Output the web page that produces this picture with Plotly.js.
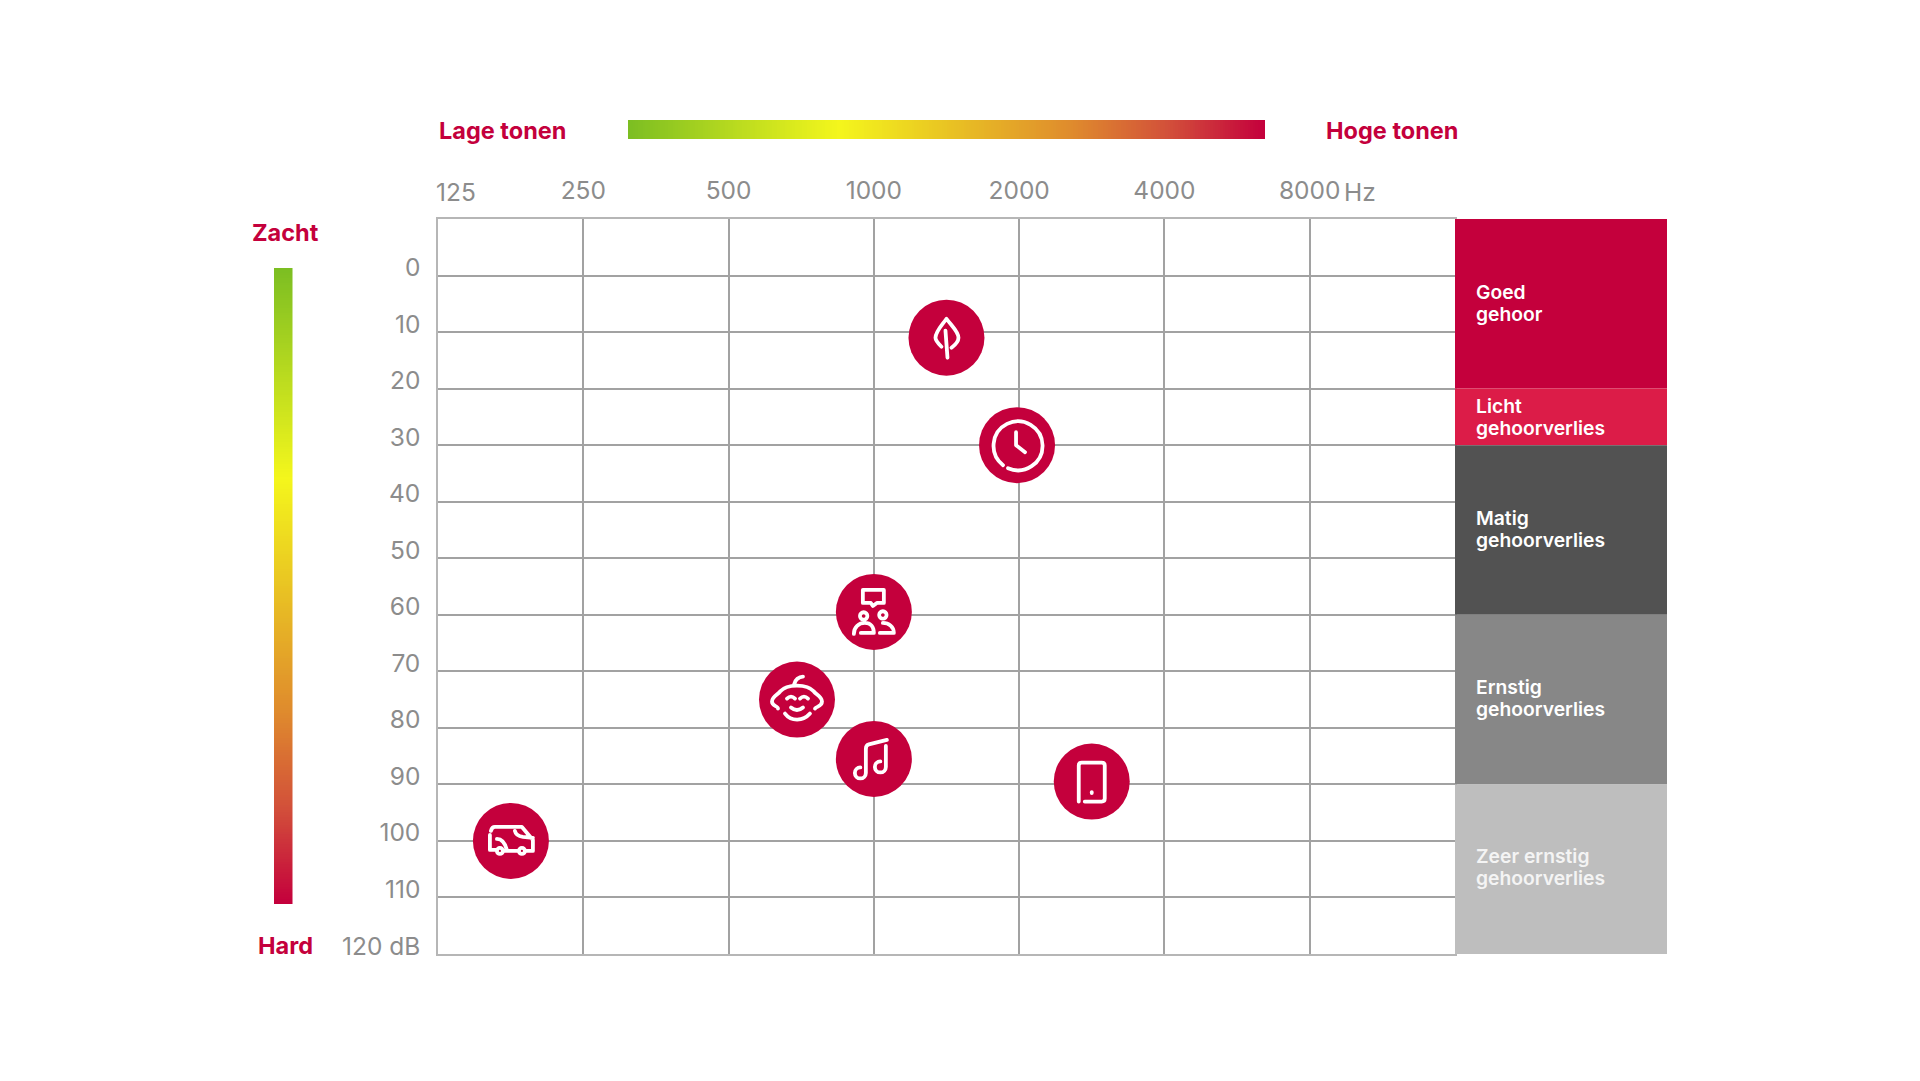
<!DOCTYPE html>
<html><head><meta charset="utf-8">
<script src="https://cdn.plot.ly/plotly-3.0.1.min.js"></script>
<style>html,body{margin:0;padding:0;background:#fff}#c{width:1920px;height:1081px}</style>
</head><body><div id="c"></div>
<script>
const W = 1920, H = 1081;
const CRIMSON = '#C4003C', TICKGREY = '#8C8C8C', FONT = 'Inter, sans-serif';

// ---- data ----
const freqTicks = [250, 500, 1000, 2000, 4000, 8000];
const freqLabels = ['250', '500', '1000', '2000', '4000', '8000'];
const levelTicks = [0, 10, 20, 30, 40, 50, 60, 70, 80, 90, 100, 110, 120];
const levelLabels = ['0', '10', '20', '30', '40', '50', '60', '70', '80', '90', '100', '110', '120 dB'];
const soundFreq = [1414, 1980, 1000, 693, 1000, 2828, 177];
const soundLevel = [11, 30, 59.5, 75, 85.5, 89.5, 100];
const soundNames = ['Bladeren', 'Klok', 'Gesprek', 'Baby', 'Muziek', 'Telefoon', 'Vrachtwagen'];
const bandFrom = [-10, 20, 30, 60, 90];
const bandTo = [20, 30, 60, 90, 120];
const bandColors = ['#C4003C', '#DC1C48', '#525252', '#878787', '#BEBEBE'];
const bandLine1 = ['Goed', 'Licht', 'Matig', 'Ernstig', 'Zeer ernstig'];
const bandLine2 = ['gehoor', 'gehoorverlies', 'gehoorverlies', 'gehoorverlies', 'gehoorverlies'];
const bandLine1Px = [292, 406, 518, 687, 856];
const bandTextColors = ['#fff', '#fff', '#fff', '#fff', '#F4F4F4'];
const gradStops = [[0, '#7CBE22'], [0.33, '#F4F61C'], [0.5, '#E9C423'], [0.7, '#DF8A2D'], [0.85, '#D2503A'], [1, '#C4003C']];

// ---- icons (drawn in a 60x60 box centred on each circle) ----
const iconPaths = [
 'M-5,9 C-9,5 -11,2 -11,0 C-11,-6 -5,-12 0,-19 C5,-12 12,-6 12,0 C12,3 9,7 5,10 M-1,-7 L1,20',
 'M-9,23 A24.5,24.5 0 1 0 -14,20 M-1,-13 L-1,0 L8,7',
 'M-11,-22 L10,-22 L10,-9 L3,-9 L-1,-6 L-3,-9 L-11,-9 Z M-20,22 C-20,15 -15,11 -9,11 C-3,11 0,15 0,21 L-13,21 M2,11 M9,11 C15,11 20,15 20,21 L6,21 M-6.5,4 A3.7,3.7 0 1 1 -13.9,4 A3.7,3.7 0 1 1 -6.5,4 M12.7,3 A3.7,3.7 0 1 1 5.3,3 A3.7,3.7 0 1 1 12.7,3',
 'M-17,-8 C-10,-16 10,-16 17,-8 C19,-5 25,-3 25,2 C25,7 19,7 18,9 M-17,-8 C-19,-5 -25,-3 -25,2 C-25,7 -19,6 -19,9 M-12,14 C-6,22 6,22 13,14 M-3,-15 C-2,-20 2,-23 6,-23 M-10,-1 Q-6,-5 -2,-1 M3,-1 Q7,-5 11,-1 M-6,8 Q0,13 6,8',
 'M-8,14 L-8,-10 C-8,-13 -7,-14 -5,-14.5 L13,-19 M12,-13 L12,8 A5.5,5.5 0 1 1 6.5,2.5 M-8,14 A5.5,5.5 0 1 1 -13.5,8.5',
 'M-13,20 L-13,-16 Q-13,-19 -10,-19 L10,-19 Q13,-19 13,-16 L13,17 Q13,20 10,20 L-7,20 M0,10.5 L0,11.5',
 'M-21,-6 L-21,9 L-15,9 M-7,10 L7,10 M15,10 L22,10 L22,-1 L11,-14 L-16,-14 Q-19,-14 -20,-10 M-14,-2 Q-7,-2 -4,9 M4,-10 Q5,-5 12,-4 L22,-3 M-8,10 A3,3 0 1 1 -14,10 A3,3 0 1 1 -8,10 M14,10 A3,3 0 1 1 8,10 A3,3 0 1 1 14,10'
];
const iconUri = d => 'data:image/svg+xml;utf8,' + encodeURIComponent(
 '<svg xmlns="http://www.w3.org/2000/svg" width="60" height="60" viewBox="-30 -30 60 60"><path d="' + d +
 '" fill="none" stroke="#fff" stroke-width="3.8" stroke-linecap="round" stroke-linejoin="round"/></svg>');

// ---- page geometry helpers ----
const px = v => v / W, py = v => 1 - v / H;
const PL = 438, PR = 1455, PT = 219, PB = 954, BAND_R = 1667;
const octPx = (PR - PL) / 7, dbPx = (PB - PT) / 130;

const colorscale = gradStops;
const ramp = []; for (let i = 0; i <= 255; i++) ramp.push(i / 255);
const idx = ramp.map((_, i) => i);

const traces = [
 { type: 'scatter', mode: 'markers', x: soundFreq, y: soundLevel, text: soundNames, hoverinfo: 'text',
   marker: { size: 76, color: CRIMSON, line: { width: 0 } }, showlegend: false },
 { type: 'heatmap', xaxis: 'x2', yaxis: 'y2', x: idx, y: [0, 1], z: [ramp, ramp], colorscale, zmin: 0, zmax: 1,
   showscale: false, hoverinfo: 'skip' },
 { type: 'heatmap', xaxis: 'x3', yaxis: 'y3', x: [0, 1], y: idx, z: ramp.map(v => [v, v]), colorscale, zmin: 0, zmax: 1,
   showscale: false, hoverinfo: 'skip' }
];

const T = (text, xPx, yPx, opts) => Object.assign({
  text, xref: 'paper', yref: 'paper', x: px(xPx), y: py(yPx), xanchor: 'left', yanchor: 'middle', showarrow: false,
  borderpad: 0, borderwidth: 0,
  font: { family: FONT, size: 23.5, color: CRIMSON, weight: 700 } }, opts || {});

const tickFont = { family: FONT, size: 24.5, color: TICKGREY, weight: 400 };
const bandFont = c => ({ family: FONT, size: 19.3, color: c, weight: 600 });

const annotations = [
 T('Lage tonen', 438.5, 130),
 T('Hoge tonen', 1326, 130),
 T('Zacht', 285, 232, { xanchor: 'center' }),
 T('Hard', 285.5, 945, { xanchor: 'center' }),
 T('125', 436, 191.5, { font: tickFont }),
 T('Hz', 1344, 191.5, { font: tickFont })
];
bandLine1.forEach((t, i) => {
  annotations.push(T(t, 1475.5, bandLine1Px[i], { font: bandFont(bandTextColors[i]) }));
  annotations.push(T(bandLine2[i], 1475.5, bandLine1Px[i] + 22.3, { font: bandFont(bandTextColors[i]) }));
});

const shapes = bandFrom.map((v, i) => ({
  type: 'rect', layer: 'above', xref: 'paper', yref: 'y', x0: px(PR), x1: px(BAND_R), y0: v, y1: bandTo[i],
  fillcolor: bandColors[i], line: { width: 0 } }));

const images = soundFreq.map((f, i) => ({
  source: iconUri(iconPaths[i]), xref: 'x', yref: 'y', x: Math.log10(f), y: soundLevel[i],
  sizex: Math.log10(2) * 60 / octPx, sizey: 60 / dbPx, xanchor: 'center', yanchor: 'middle',
  sizing: 'stretch', layer: 'above' }));

const hiddenAxis = (domain, anchor, range) => ({ domain, anchor, range, visible: false, fixedrange: true });

const layout = {
  width: W, height: H, margin: { l: 0, r: 0, t: 0, b: 0, pad: 0 },
  paper_bgcolor: '#fff', plot_bgcolor: '#fff', showlegend: false, hovermode: 'closest',
  font: { family: FONT },
  xaxis: {
    type: 'log', domain: [px(PL), px(PR)], range: [Math.log10(125), Math.log10(16000)], side: 'top',
    tickmode: 'array', tickvals: freqTicks, ticktext: freqLabels, tickfont: tickFont, ticks: '',
    ticklabelstandoff: 8, showgrid: true, gridcolor: '#A2A2A2', gridwidth: 1.5, zeroline: false,
    showline: true, mirror: true, linecolor: '#B6B6B6', linewidth: 1.5, fixedrange: true, automargin: false
  },
  yaxis: {
    domain: [py(PB), py(PT)], range: [120, -10], tickmode: 'array', tickvals: levelTicks, ticktext: levelLabels,
    tickfont: tickFont, ticks: '', ticklabelstandoff: 11, ticklabelshift: 8, showgrid: true, gridcolor: '#A2A2A2',
    gridwidth: 1.7, zeroline: false, showline: true, mirror: true, linecolor: '#B6B6B6', linewidth: 1.5,
    fixedrange: true, automargin: false
  },
  xaxis2: hiddenAxis([px(628), px(1265)], 'y2', [-0.5, 255.5]),
  yaxis2: hiddenAxis([py(139), py(120)], 'x2', [-0.5, 1.5]),
  xaxis3: hiddenAxis([px(274), px(292.5)], 'y3', [-0.5, 1.5]),
  yaxis3: hiddenAxis([py(904), py(268)], 'x3', [255.5, -0.5]),
  annotations, shapes, images
};
Plotly.newPlot('c', traces, layout, { displayModeBar: false, responsive: false });
</script></body></html>
